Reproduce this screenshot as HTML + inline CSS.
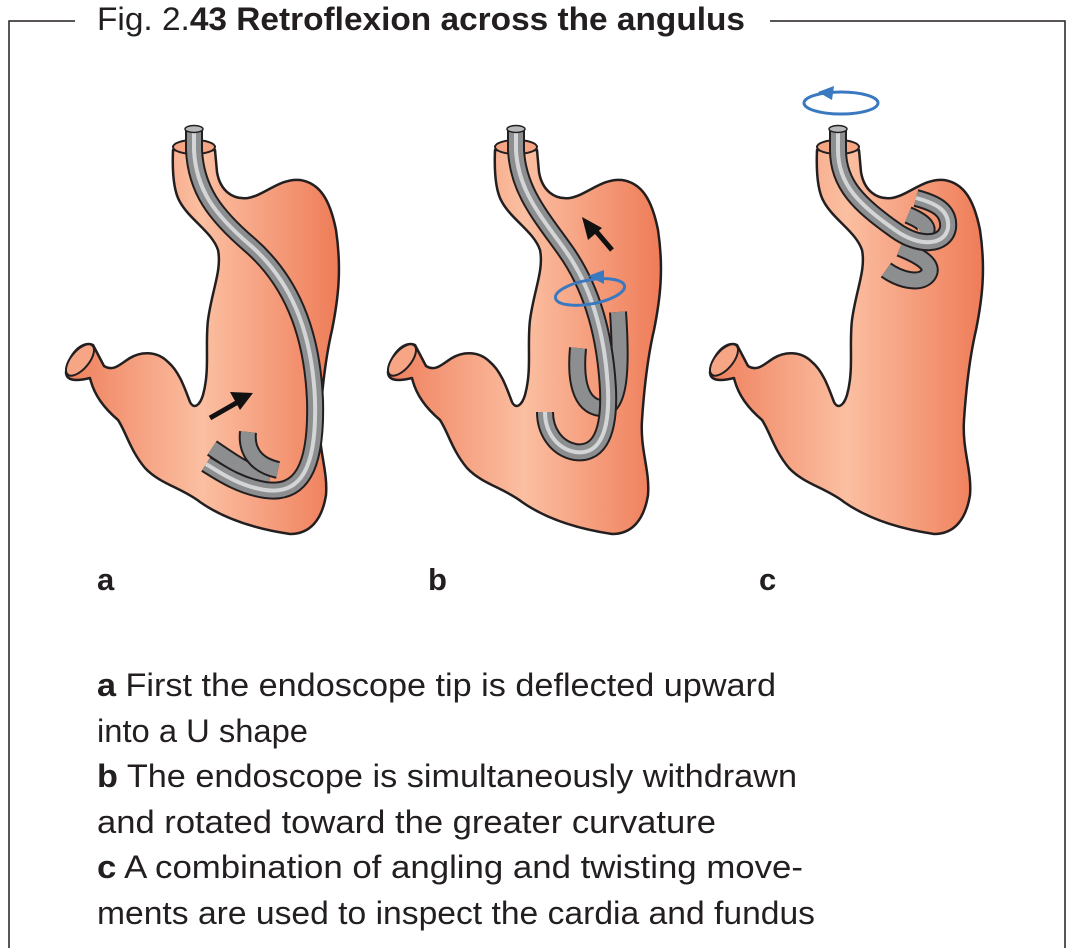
<!DOCTYPE html>
<html><head><meta charset="utf-8"><style>
body{margin:0;background:#fff;}
svg{display:block}
.t{font-family:"Liberation Sans",sans-serif;fill:#231f20}
</style></head><body>
<svg width="1081" height="948" viewBox="0 0 1081 948">
<defs>
<linearGradient id="sg" x1="0" x2="1" y1="0" y2="0">
<stop offset="0" stop-color="#ef7f5c"/><stop offset="0.5" stop-color="#fbbfa1"/><stop offset="1" stop-color="#ef7c58"/>
</linearGradient>
<g id="stom">
<path d="M173,150 C172,175 174,192 180,202 C190,220 212,232 218,250 C222,270 212,290 208,320 C205,345 210,370 203,395 C200,405 194,410 190,402 C186,392 180,372 168,362 C156,350 140,352 130,358 C120,364 114,372 104,366 L93,345 C82,340 68,355 66,372 C66,380 74,382 90,378 C94,395 104,408 118,420 C126,432 130,450 145,468 C160,484 182,488 200,502 C220,516 250,528 290,534 C310,534 322,520 326,495 C328,470 318,450 320,420 C322,390 325,360 332,330 C338,300 342,270 336,230 C330,200 320,183 300,180 C280,178 265,195 248,198 C232,200 220,190 217,172 L215,150 Z" fill="url(#sg)" stroke="#231f20" stroke-width="2.5" stroke-linejoin="round"/>
<ellipse cx="194" cy="147" rx="21" ry="7" fill="#f6a585" stroke="#231f20" stroke-width="2"/>
<ellipse cx="80" cy="360" rx="9" ry="19" transform="rotate(40 80 360)" fill="#f6a585" stroke="#231f20" stroke-width="2"/>
</g>
</defs>
<path d="M9,948 L9,21 L75,21 M770,21 L1065,21 L1065,948" fill="none" stroke="#231f20" stroke-width="1.5"/>
<text class="t" x="97" y="30" font-size="32" textLength="648" lengthAdjust="spacingAndGlyphs">Fig. 2.<tspan font-weight="bold">43  Retroflexion across the angulus</tspan></text>

<use href="#stom"/>
<use href="#stom" transform="translate(322,0)"/>
<use href="#stom" transform="translate(644,0)"/>

<g fill="none" stroke-linecap="butt" stroke-linejoin="round">
<!-- a tube -->
<path d="M270,478 C248,474 230,460 212,448" stroke="#231f20" stroke-width="18"/>
<path d="M270,478 C248,474 230,460 212,448" stroke="#8d8e90" stroke-width="14"/>
<path d="M278,470 C255,465 246,450 248,432" stroke="#231f20" stroke-width="18"/>
<path d="M278,470 C255,465 246,450 248,432" stroke="#8d8e90" stroke-width="14"/>
<path d="M194,128 L194,150 C196,190 215,215 250,245 C290,280 312,330 315,400 C317,470 300,495 265,490 C240,486 222,474 206,464" stroke="#231f20" stroke-width="18"/>
<path d="M194,128 L194,150 C196,190 215,215 250,245 C290,280 312,330 315,400 C317,470 300,495 265,490 C240,486 222,474 206,464" stroke="#8d8e90" stroke-width="14"/>
<path d="M194,128 L194,150 C196,190 215,215 250,245 C290,280 312,330 315,400 C317,470 300,495 265,490 C240,486 222,474 206,464" stroke="#d4d5d6" stroke-width="4"/>
<!-- b tube -->
<path d="M578,348 C575,380 580,405 600,408 C620,410 622,370 618,312" stroke="#231f20" stroke-width="18"/>
<path d="M578,348 C575,380 580,405 600,408 C620,410 622,370 618,312" stroke="#8d8e90" stroke-width="14"/>
<path d="M516,128 L516,150 C518,190 540,215 565,250 C590,285 605,330 608,390 C610,440 595,455 575,452 C555,448 545,430 545,412" stroke="#231f20" stroke-width="18"/>
<path d="M516,128 L516,150 C518,190 540,215 565,250 C590,285 605,330 608,390 C610,440 595,455 575,452 C555,448 545,430 545,412" stroke="#8d8e90" stroke-width="14"/>
<path d="M516,128 L516,150 C518,190 540,215 565,250 C590,285 605,330 608,390 C610,440 595,455 575,452 C555,448 545,430 545,412" stroke="#d4d5d6" stroke-width="4"/>
<!-- c tube -->
<path d="M900,248 C920,256 935,265 928,275 C920,285 900,280 886,270" stroke="#231f20" stroke-width="18"/>
<path d="M900,248 C920,256 935,265 928,275 C920,285 900,280 886,270" stroke="#8d8e90" stroke-width="14"/>
<path d="M908,215 C925,222 932,230 922,235" stroke="#231f20" stroke-width="18"/>
<path d="M908,215 C925,222 932,230 922,235" stroke="#8d8e90" stroke-width="14"/>
<path d="M838,128 L838,150 C838,185 860,205 895,230 C920,248 945,245 948,228 C950,210 935,203 916,198" stroke="#231f20" stroke-width="18"/>
<path d="M838,128 L838,150 C838,185 860,205 895,230 C920,248 945,245 948,228 C950,210 935,203 916,198" stroke="#8d8e90" stroke-width="14"/>
<path d="M838,128 L838,150 C838,185 860,205 895,230 C920,248 945,245 948,228 C950,210 935,203 916,198" stroke="#d4d5d6" stroke-width="4"/>
</g>
<g fill="#b7b8ba" stroke="#231f20" stroke-width="1.5">
<ellipse cx="194" cy="129" rx="9" ry="3.5"/><ellipse cx="516" cy="129" rx="9" ry="3.5"/><ellipse cx="838" cy="129" rx="9" ry="3.5"/>
</g>
<g stroke="#111" stroke-width="5" fill="#111">
<line x1="210" y1="418" x2="238" y2="402"/><polygon points="253,393 230,392 240,410" stroke="none"/>
<line x1="612" y1="250" x2="595" y2="230"/><polygon points="582,217 588,240 602,228" stroke="none"/>
</g>
<g fill="none" stroke="#3a78c0" stroke-width="3">
<ellipse cx="590" cy="292" rx="35" ry="12" transform="rotate(-10 590 292)"/>
<ellipse cx="841" cy="103" rx="37" ry="11"/>
</g>
<polygon points="588,276 604,270 604,284" fill="#3a78c0"/>
<polygon points="818,92 834,86 832,100" fill="#3a78c0"/>

<g class="t" font-weight="bold" font-size="31">
<text x="97" y="590">a</text><text x="428" y="590">b</text><text x="759" y="590">c</text>
</g>
<g class="t" font-size="32" lengthAdjust="spacingAndGlyphs">
<text x="97" y="696" textLength="679" lengthAdjust="spacingAndGlyphs"><tspan font-weight="bold">a</tspan>  First the endoscope tip is deflected upward</text>
<text x="97" y="742" textLength="211" lengthAdjust="spacingAndGlyphs">into a U shape</text>
<text x="97" y="787" textLength="700" lengthAdjust="spacingAndGlyphs"><tspan font-weight="bold">b</tspan>  The endoscope is simultaneously withdrawn</text>
<text x="97" y="833" textLength="619" lengthAdjust="spacingAndGlyphs">and rotated toward the greater curvature</text>
<text x="97" y="878" textLength="706" lengthAdjust="spacingAndGlyphs"><tspan font-weight="bold">c</tspan>  A combination of angling and twisting move-</text>
<text x="97" y="924" textLength="718" lengthAdjust="spacingAndGlyphs">ments are used to inspect the cardia and fundus</text>
</g>
</svg>
</body></html>
